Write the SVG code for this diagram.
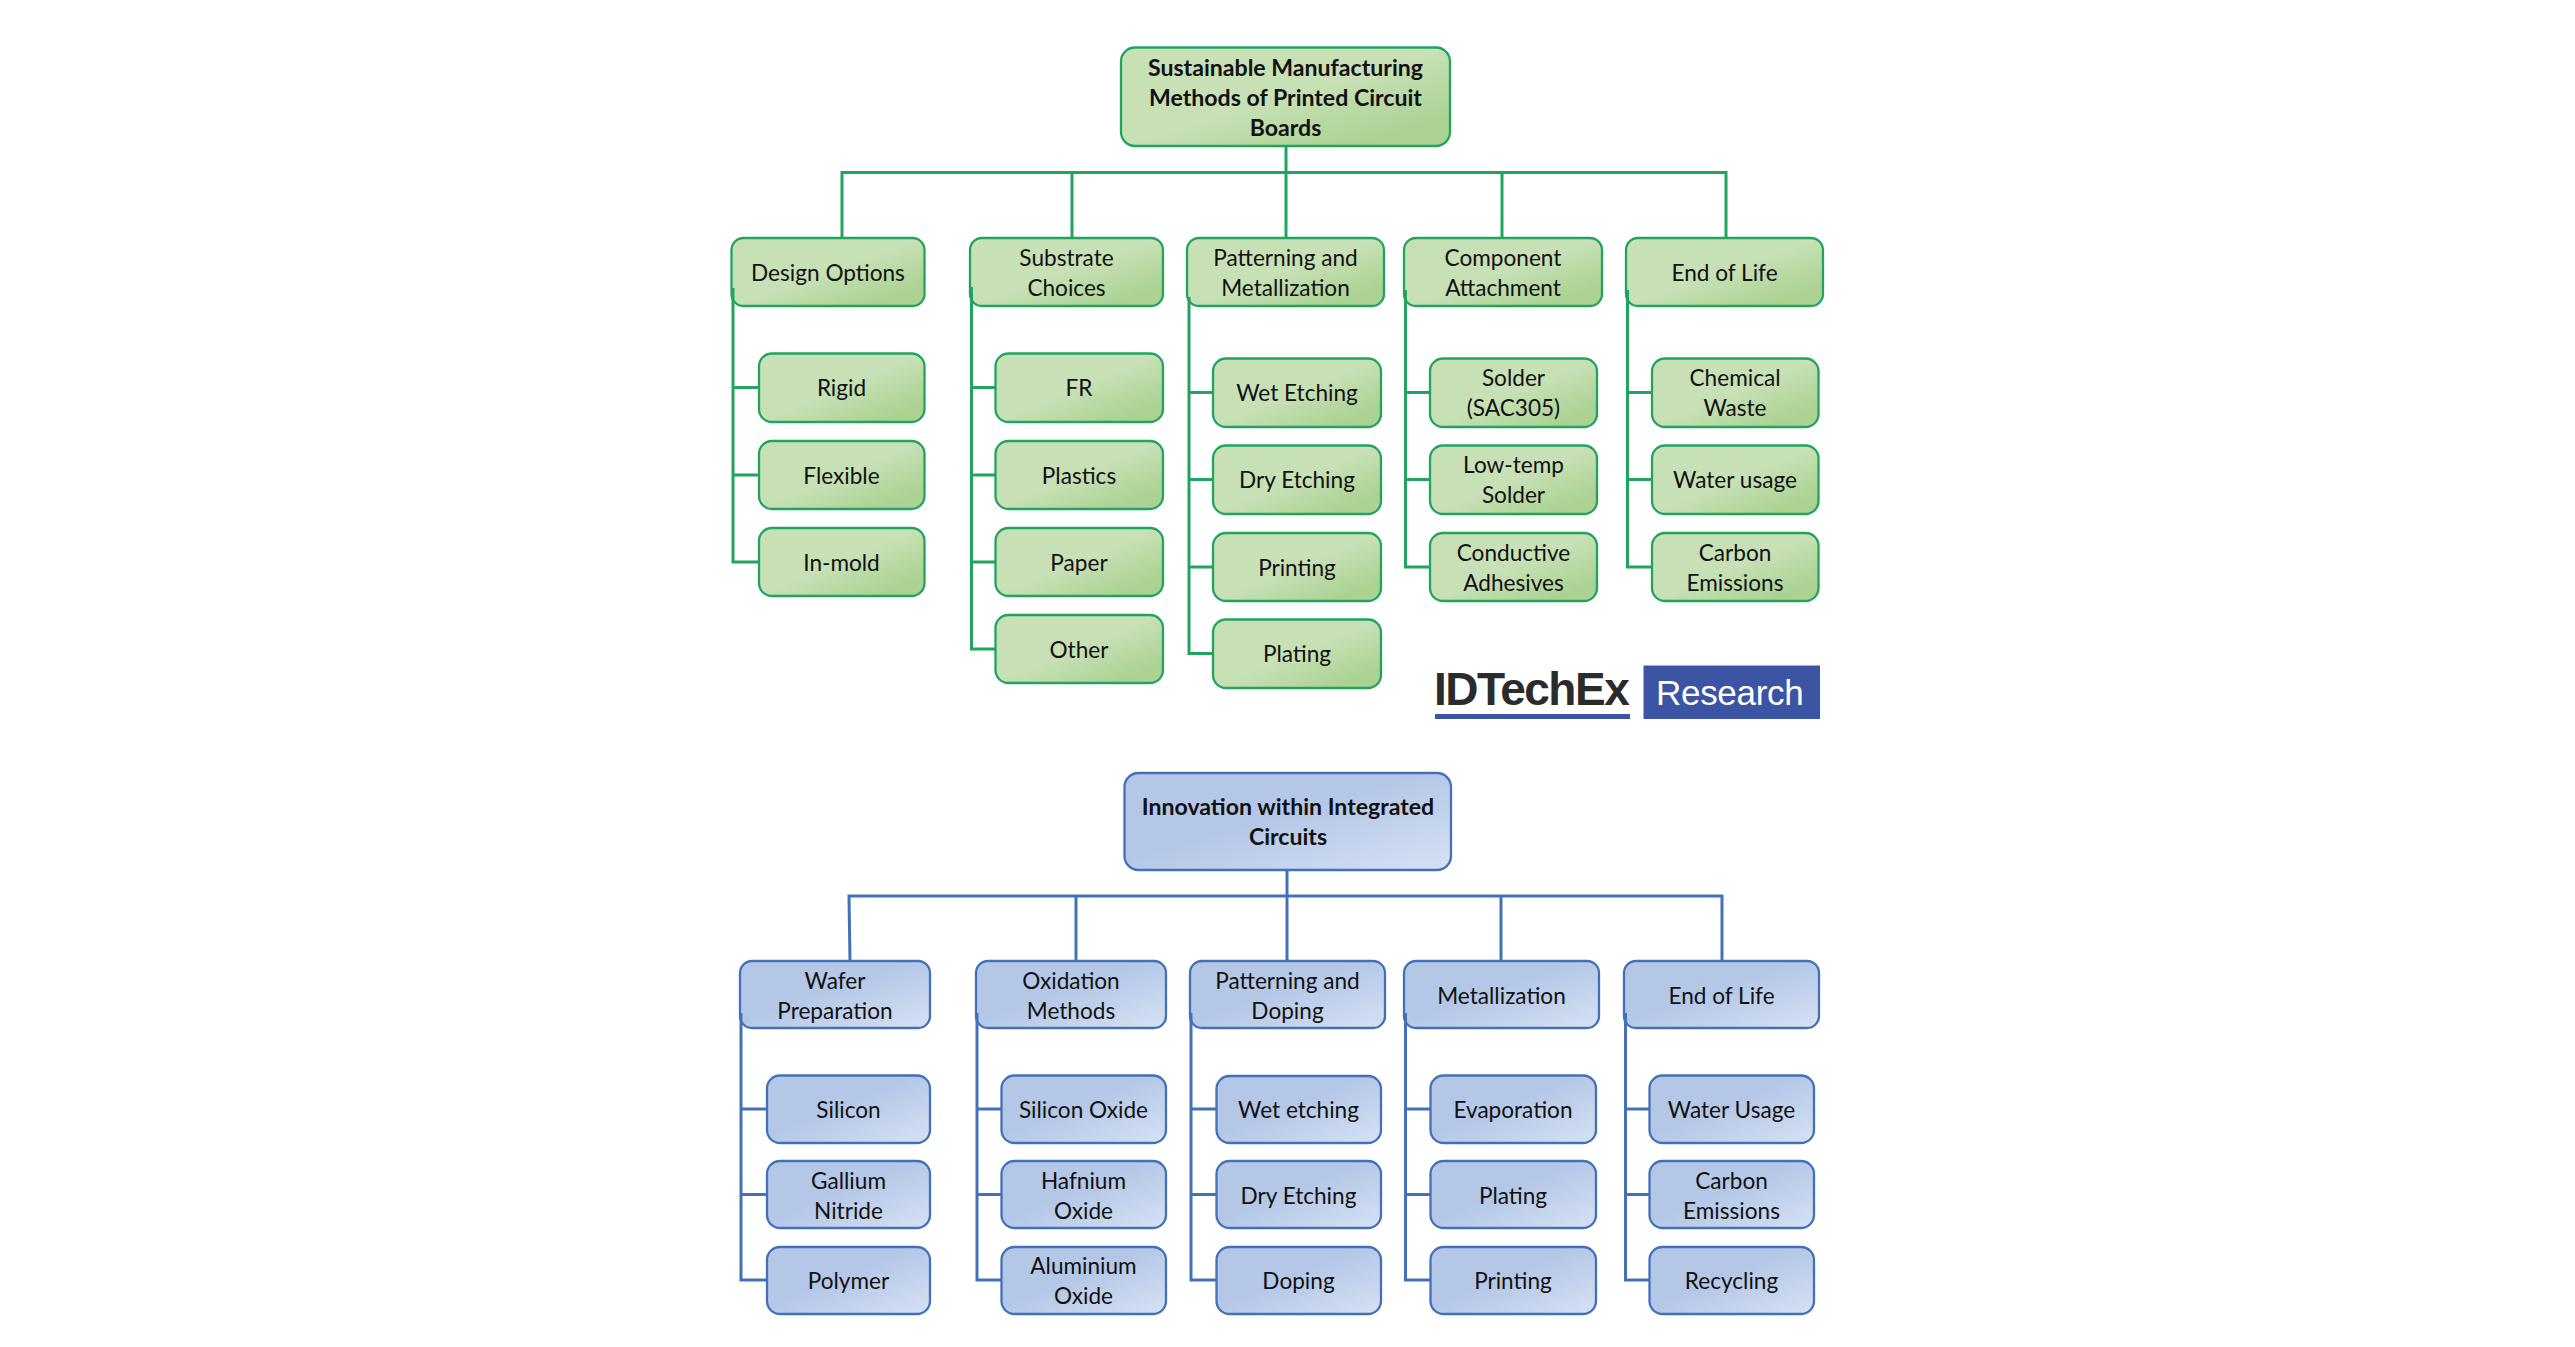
<svg xmlns="http://www.w3.org/2000/svg" width="2575" height="1347" viewBox="0 0 2575 1347">
<defs>
<linearGradient id="gg" x1="0" y1="0" x2="1" y2="1"><stop offset="0.5" stop-color="#c7e0b5"/><stop offset="0.85" stop-color="#abd293"/></linearGradient>
<linearGradient id="bg" x1="0" y1="0" x2="1" y2="1"><stop offset="0.45" stop-color="#b4c7e7"/><stop offset="1" stop-color="#d6e1f3"/></linearGradient>
</defs>
<style>
text{font-family:"Lato","Open Sans","Liberation Sans",sans-serif;font-size:22.600px;fill:#111;text-anchor:middle;transform:translateY(0.600px)}
.t{font-weight:700;font-size:23.100px}
.g rect{fill:url(#gg);stroke:#22a45f;stroke-width:2.300}
.b rect{fill:url(#bg);stroke:#4470b8;stroke-width:2.300}
.cg{fill:none;stroke:#22a45f;stroke-width:3}
.cb{fill:none;stroke:#4470b8;stroke-width:3}
</style>
<rect width="2575" height="1347" fill="#fff"/>
<g class="g">
<g id="g-root"><rect x="1121" y="47.500" width="329" height="98.500" rx="14"/><text class="t" x="1285.500" y="75">Sustainable Manufacturing</text><text class="t" x="1285.500" y="105">Methods of Printed Circuit</text><text class="t" x="1285.500" y="135">Boards</text></g>
<g id="g-design"><rect x="731.500" y="238" width="193" height="68" rx="12"/><text x="828" y="280">Design Options</text></g>
<g id="g-substrate"><rect x="970" y="238" width="193" height="68" rx="12"/><text x="1066.500" y="265">Substrate</text><text x="1066.500" y="295">Choices</text></g>
<g id="g-patterning"><rect x="1187" y="238" width="197" height="68" rx="12"/><text x="1285.500" y="265">Patterning and</text><text x="1285.500" y="295">Metallization</text></g>
<g id="g-component"><rect x="1404" y="238" width="198" height="68" rx="12"/><text x="1503" y="265">Component</text><text x="1503" y="295">Attachment</text></g>
<g id="g-eol"><rect x="1626" y="238" width="197" height="68" rx="12"/><text x="1724.500" y="280">End of Life</text></g>
<g id="g-rigid"><rect x="759" y="353.500" width="165.500" height="68.500" rx="13"/><text x="841.500" y="395.500">Rigid</text></g>
<g id="g-flexible"><rect x="759" y="441" width="165.500" height="68" rx="13"/><text x="841.500" y="483">Flexible</text></g>
<g id="g-inmold"><rect x="759" y="528" width="165.500" height="68" rx="13"/><text x="841.500" y="570">In-mold</text></g>
<g id="g-fr"><rect x="995.500" y="353.500" width="167.500" height="68.500" rx="13"/><text x="1079" y="395.500">FR</text></g>
<g id="g-plastics"><rect x="995.500" y="441" width="167.500" height="68" rx="13"/><text x="1079" y="483">Plastics</text></g>
<g id="g-paper"><rect x="995.500" y="528" width="167.500" height="68" rx="13"/><text x="1079" y="570">Paper</text></g>
<g id="g-other"><rect x="995.500" y="615" width="167.500" height="68" rx="13"/><text x="1079" y="657">Other</text></g>
<g id="g-wet"><rect x="1213" y="358.500" width="168" height="68.500" rx="13"/><text x="1297" y="400.500">Wet Etching</text></g>
<g id="g-dry"><rect x="1213" y="445.500" width="168" height="68.500" rx="13"/><text x="1297" y="487.500">Dry Etching</text></g>
<g id="g-printing"><rect x="1213" y="533" width="168" height="68" rx="13"/><text x="1297" y="575">Printing</text></g>
<g id="g-plating"><rect x="1213" y="619.500" width="168" height="68.500" rx="13"/><text x="1297" y="661.500">Plating</text></g>
<g id="g-solder"><rect x="1430" y="358.500" width="167" height="68.500" rx="13"/><text x="1513.500" y="385.500">Solder</text><text x="1513.500" y="415.500">(SAC305)</text></g>
<g id="g-lowtemp"><rect x="1430" y="445.500" width="167" height="68.500" rx="13"/><text x="1513.500" y="472.500">Low-temp</text><text x="1513.500" y="502.500">Solder</text></g>
<g id="g-conductive"><rect x="1430" y="533" width="167" height="68" rx="13"/><text x="1513.500" y="560">Conductive</text><text x="1513.500" y="590">Adhesives</text></g>
<g id="g-chem"><rect x="1652" y="358.500" width="166.500" height="68.500" rx="13"/><text x="1735" y="385.500">Chemical</text><text x="1735" y="415.500">Waste</text></g>
<g id="g-water"><rect x="1652" y="445.500" width="166.500" height="68.500" rx="13"/><text x="1735" y="487.500">Water usage</text></g>
<g id="g-carbon"><rect x="1652" y="533" width="166.500" height="68" rx="13"/><text x="1735" y="560">Carbon</text><text x="1735" y="590">Emissions</text></g>
</g>
<g id="logo">
<text x="1434" y="705" style="font-family:'Liberation Sans',sans-serif;font-weight:700;font-size:46px;fill:#2b2b2b;text-anchor:start;letter-spacing:-1.500px;transform:none">IDTechEx</text>
<rect x="1435" y="714" width="195" height="5" fill="#3c55a5"/>
<rect x="1643.500" y="665.500" width="176.500" height="53.500" fill="#3b54a3"/>
<text x="1656" y="705" style="font-family:'Liberation Sans',sans-serif;font-size:35px;fill:#fff;text-anchor:start;letter-spacing:-0.300px;transform:none">Research</text>
</g>
<g class="b">
<g id="b-root"><rect x="1124.500" y="773" width="326.500" height="97" rx="14"/><text class="t" x="1288" y="814">Innovation within Integrated</text><text class="t" x="1288" y="844">Circuits</text></g>
<g id="b-wafer"><rect x="740" y="961" width="190" height="67" rx="12"/><text x="835" y="988">Wafer</text><text x="835" y="1018">Preparation</text></g>
<g id="b-oxid"><rect x="976" y="961" width="190" height="67" rx="12"/><text x="1071" y="988">Oxidation</text><text x="1071" y="1018">Methods</text></g>
<g id="b-pat"><rect x="1190" y="961" width="195" height="67" rx="12"/><text x="1287.500" y="988">Patterning and</text><text x="1287.500" y="1018">Doping</text></g>
<g id="b-metal"><rect x="1404" y="961" width="195" height="67" rx="12"/><text x="1501.500" y="1003">Metallization</text></g>
<g id="b-eol"><rect x="1624" y="961" width="195" height="67" rx="12"/><text x="1721.500" y="1003">End of Life</text></g>
<g id="b-silicon"><rect x="767" y="1075.500" width="163" height="67.500" rx="13"/><text x="848.500" y="1117">Silicon</text></g>
<g id="b-gan"><rect x="767" y="1161" width="163" height="67" rx="13"/><text x="848.500" y="1188">Gallium</text><text x="848.500" y="1218">Nitride</text></g>
<g id="b-polymer"><rect x="767" y="1247" width="163" height="67" rx="13"/><text x="848.500" y="1288">Polymer</text></g>
<g id="b-sio"><rect x="1001.500" y="1075.500" width="164.500" height="67.500" rx="13"/><text x="1083.500" y="1117">Silicon Oxide</text></g>
<g id="b-hf"><rect x="1001.500" y="1161" width="164.500" height="67" rx="13"/><text x="1083.500" y="1188">Hafnium</text><text x="1083.500" y="1218">Oxide</text></g>
<g id="b-al"><rect x="1001.500" y="1247" width="164.500" height="67" rx="13"/><text x="1083.500" y="1273">Aluminium</text><text x="1083.500" y="1303">Oxide</text></g>
<g id="b-wet"><rect x="1216.500" y="1076" width="164.500" height="67" rx="13"/><text x="1298.500" y="1117">Wet etching</text></g>
<g id="b-dry"><rect x="1216.500" y="1161" width="164.500" height="67" rx="13"/><text x="1298.500" y="1203">Dry Etching</text></g>
<g id="b-doping"><rect x="1216.500" y="1247" width="164.500" height="67" rx="13"/><text x="1298.500" y="1288">Doping</text></g>
<g id="b-evap"><rect x="1430.500" y="1075.500" width="165.500" height="67.500" rx="13"/><text x="1513" y="1117">Evaporation</text></g>
<g id="b-plating"><rect x="1430.500" y="1161" width="165.500" height="67" rx="13"/><text x="1513" y="1203">Plating</text></g>
<g id="b-printing"><rect x="1430.500" y="1247" width="165.500" height="67" rx="13"/><text x="1513" y="1288">Printing</text></g>
<g id="b-water"><rect x="1649.500" y="1075.500" width="164.500" height="67.500" rx="13"/><text x="1731.500" y="1117">Water Usage</text></g>
<g id="b-carbon"><rect x="1649.500" y="1161" width="164.500" height="67" rx="13"/><text x="1731.500" y="1188">Carbon</text><text x="1731.500" y="1218">Emissions</text></g>
<g id="b-recycling"><rect x="1649.500" y="1247" width="164.500" height="67" rx="13"/><text x="1731.500" y="1288">Recycling</text></g>
</g>
<g id="connectors">
<path class="cg" d="M1286 146V238M842 238V172.500H1726V238M1072 172.500V238"/>
<path class="cg" d="M1502 172.500V238"/>
<path class="cg" d="M733 288V562H759M733 387.500H759M733 475H759"/>
<path class="cg" d="M971.500 287V649H995M971.500 387.500H995M971.500 475H995M971.500 562H995"/>
<path class="cg" d="M1189 297V653.500H1213M1189 392.500H1213M1189 479.500H1213M1189 567H1213"/>
<path class="cg" d="M1405.500 290V567H1430M1405.500 392.500H1430M1405.500 479.500H1430"/>
<path class="cg" d="M1627.500 290V567H1652M1627.500 392.500H1652M1627.500 479.500H1652"/>
<path class="cb" d="M1287 870V961M850 961L849 896H1722V961M1076 896V961M1501 896V961"/>
<path class="cb" d="M741 1013V1280H767M741 1109H767M741 1194.500H767"/>
<path class="cb" d="M977 1013V1280H1001M977 1109H1001M977 1194.500H1001"/>
<path class="cb" d="M1191 1013V1280H1216M1191 1109H1216M1191 1194.500H1216"/>
<path class="cb" d="M1405.500 1013V1280H1430M1405.500 1109H1430M1405.500 1194.500H1430"/>
<path class="cb" d="M1625.500 1013V1280H1649M1625.500 1109H1649M1625.500 1194.500H1649"/>
</g>
</svg>
